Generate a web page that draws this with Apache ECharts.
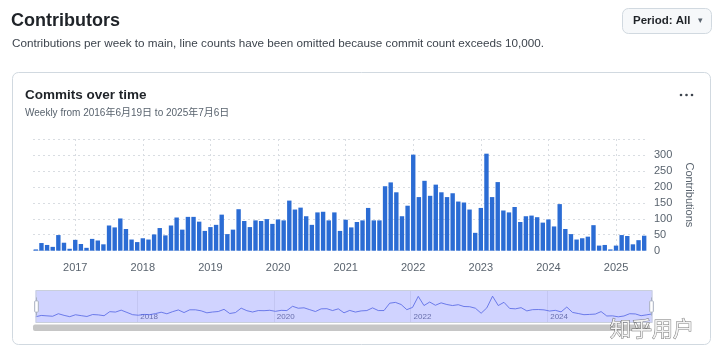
<!DOCTYPE html>
<html>
<head>
<meta charset="utf-8">
<script src="https://cdn.jsdelivr.net/npm/echarts@6/dist/echarts.min.js"></script>
<style>
html,body{margin:0;padding:0;background:#fff;}
#c{width:720px;height:355px;}
</style>
</head>
<body>
<div id="c"></div>
<script>
// ---- data ----
const startYear = 2016, startMonth = 6; // first bar: June 2016
const commits2016 = [4, 24, 18, 12, 49, 25, 6];
const commits2017 = [34, 21, 9, 37, 32, 20, 79, 73, 101, 68, 35, 27];
const commits2018 = [39, 35, 51, 71, 48, 79, 104, 66, 106, 106, 91, 62];
const commits2019 = [74, 81, 113, 52, 66, 130, 93, 74, 95, 93, 99, 84];
const commits2020 = [98, 95, 157, 129, 135, 108, 81, 120, 122, 95, 120, 62];
const commits2021 = [97, 73, 90, 95, 134, 95, 95, 202, 214, 183, 108, 141];
const commits2022 = [301, 168, 219, 172, 207, 183, 168, 180, 154, 151, 129, 56];
const commits2023 = [134, 304, 168, 215, 126, 120, 137, 90, 108, 110, 105, 88];
const commits2024 = [98, 76, 146, 68, 52, 35, 39, 44, 80, 16, 18, 4];
const commits2025 = [16, 49, 46, 20, 33, 47];
const sliderYears = ['2018', '2020', '2022', '2024'];
const yMax = 350, yStep = 50;

const values = [].concat(commits2016, commits2017, commits2018, commits2019, commits2020,
  commits2021, commits2022, commits2023, commits2024, commits2025);
const months = [];
for (let i = 0; i < values.length; i++) {
  const m = (startMonth - 1 + i) % 12 + 1;
  const y = startYear + Math.floor((startMonth - 1 + i) / 12);
  months.push(y + '-' + (m < 10 ? '0' + m : m));
}
const isJan = (idx, val) => String(val).slice(5) === '01';
const isSliderYear = (idx, val) => isJan(idx, val) && sliderYears.indexOf(String(val).slice(0, 4)) >= 0;

const FONT = '"Liberation Sans", "Noto Sans CJK SC", sans-serif';
const grey = '#59636e';
const gridDot = { color: '#d9dde2', type: [2, 3], width: 1 };

const chart = echarts.init(document.getElementById('c'), null, { renderer: 'canvas' });
chart.setOption({
  animation: false,
  backgroundColor: '#fff',
  textStyle: { fontFamily: FONT },
  graphic: [
    { type: 'rect', z: -10, shape: { x: 12.5, y: 72.5, width: 698, height: 272, r: 6 },
      style: { fill: 'none', stroke: '#d1d9e0', lineWidth: 1 } },
    { type: 'rect', shape: { x: 622.5, y: 8.5, width: 89, height: 25, r: 6 },
      style: { fill: '#f6f8fa', stroke: '#d1d9e0', lineWidth: 1 } },
    { type: 'text', x: 633, y: 21, style: { text: 'Period: All', font: 'bold 11.5px ' + FONT, fill: '#1f2328', verticalAlign: 'middle' } },
    { type: 'text', x: 700, y: 21, style: { text: '▾', font: '9px ' + FONT, fill: '#59636e', align: 'center', verticalAlign: 'middle' } },
    { type: 'text', x: 11, y: 21, style: { text: 'Contributors', font: 'bold 18px ' + FONT, fill: '#1f2328', verticalAlign: 'middle' } },
    { type: 'text', x: 12, y: 44, style: { text: 'Contributions per week to main, line counts have been omitted because commit count exceeds 10,000.', font: '11.7px ' + FONT, fill: '#3d444d', verticalAlign: 'middle' } },
    { type: 'text', x: 25, y: 95, style: { text: 'Commits over time', font: 'bold 13.5px ' + FONT, fill: '#1f2328', verticalAlign: 'middle' } },
    { type: 'text', x: 25, y: 113, style: { text: 'Weekly from 2016年6月19日 to 2025年7月6日', font: '10px ' + FONT, fill: '#59636e', verticalAlign: 'middle' } },
    { type: 'circle', shape: { cx: 681, cy: 95, r: 1.3 }, style: { fill: '#3d444d' } },
    { type: 'circle', shape: { cx: 686.5, cy: 95, r: 1.3 }, style: { fill: '#3d444d' } },
    { type: 'circle', shape: { cx: 692, cy: 95, r: 1.3 }, style: { fill: '#3d444d' } },
    { type: 'rect', z: 50, shape: { x: 33, y: 324.5, width: 617, height: 6.5, r: 2 },
      style: { fill: '#c6c6c6' } },
    { type: 'text', z: 100, x: 652, y: 328, style: { text: '知乎用户', font: '21px "Noto Sans CJK SC", sans-serif', fill: '#f2f2f2', stroke: 'rgba(70,70,70,0.75)', lineWidth: 1, align: 'center', verticalAlign: 'middle' } }
  ],
  grid: [
    { left: 33, right: 73, top: 139, height: 111.7 },
    { left: 29, right: 76, top: 290, height: 33 }
  ],
  xAxis: [
    {
      type: 'category', gridIndex: 0, data: months, boundaryGap: true,
      axisLine: { show: false }, axisTick: { show: false },
      axisLabel: { interval: isJan, formatter: v => v.slice(0, 4), color: grey, fontSize: 11, margin: 12 },
      splitLine: { show: true, interval: isJan, alignWithLabel: true, lineStyle: gridDot }
    },
    {
      type: 'category', gridIndex: 1, data: months, boundaryGap: false,
      axisLine: { show: false }, axisTick: { show: false },
      axisLabel: { inside: true, interval: isSliderYear, formatter: v => v.slice(0, 4), color: '#6b7089', fontSize: 8, align: 'left', margin: 2, padding: [0, 0, 0, 3] },
      splitLine: { show: true, interval: isSliderYear, lineStyle: { color: 'rgba(0,0,0,0.07)', width: 1 } }
    }
  ],
  yAxis: [
    {
      type: 'value', gridIndex: 0, position: 'right', min: 0, max: yMax, interval: yStep,
      axisLine: { show: false }, axisTick: { show: false },
      axisLabel: { showMaxLabel: false, color: grey, fontSize: 11, margin: 7 },
      name: 'Contributions', nameLocation: 'middle', nameGap: 34, nameRotate: -90,
      nameTextStyle: { color: grey, fontSize: 11 },
      splitLine: { show: true, lineStyle: gridDot }
    },
    { type: 'value', gridIndex: 1, show: false, min: 0, max: 1 }
  ],
  dataZoom: [{
    type: 'slider', xAxisIndex: 0, start: 0, end: 100,
    left: 33, right: 70, top: 290, height: 33,
    showDetail: false,
    borderColor: '#c9cfdc',
    fillerColor: 'rgba(100,110,255,0.3)',
    handleSize: '55%',
    handleStyle: { color: '#fff', borderColor: '#a8b0c0' },
    dataBackground: { lineStyle: { color: '#4a5fd8', width: 0.8, opacity: 1 }, areaStyle: { opacity: 0 } },
    selectedDataBackground: { lineStyle: { color: '#4a5fd8', width: 0.8, opacity: 1 }, areaStyle: { opacity: 0 } },
    moveHandleSize: 0,
    moveHandleStyle: { opacity: 0 }
  }],
  series: [{
    type: 'bar', xAxisIndex: 0, yAxisIndex: 0, data: values,
    barCategoryGap: '22%',
    itemStyle: { color: '#2b6cd4' }
  }]
});
</script>
</body>
</html>
